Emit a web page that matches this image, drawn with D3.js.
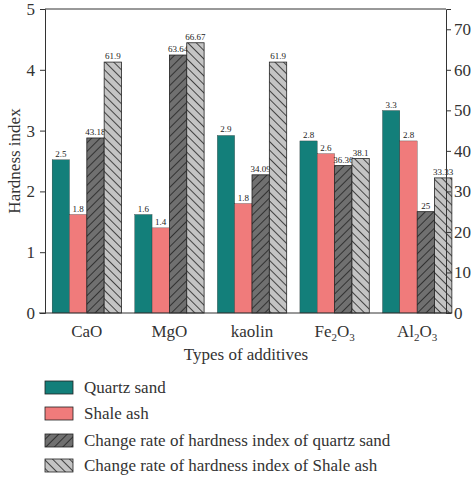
<!DOCTYPE html>
<html><head><meta charset="utf-8">
<script src="https://cdn.jsdelivr.net/npm/d3@7"></script>
<style>body{margin:0;background:#fff}svg{font-family:"Liberation Serif","DejaVu Serif",serif}</style>
</head><body><svg id="c" width="474" height="478"></svg>
<script>
const categories = ["CaO","MgO","kaolin","Fe2O3","Al2O3"];
const quartz = [2.52,1.62,2.92,2.83,3.33];
const quartzLabels = ["2.5","1.6","2.9","2.8","3.3"];
const shale = [1.62,1.40,1.80,2.62,2.83];
const shaleLabels = ["1.8","1.4","1.8","2.6","2.8"];
const rateQuartz = [43.18,63.64,34.09,36.36,25];
const rateShale = [61.9,66.67,61.9,38.1,33.33];
const leftTicks = [0,1,2,3,4,5];
const rightTicks = [0,10,20,30,40,50,60,70];
const seriesNames = ["Quartz sand","Shale ash","Change rate of hardness index of quartz sand","Change rate of hardness index of Shale ash"];

const svg = d3.select("#c");
const L=45,R=446,T=9,B=313;
const defs = svg.append("defs");
function hatch(id, bg, dir){
  const p = defs.append("pattern").attr("id",id).attr("patternUnits","userSpaceOnUse").attr("width",6).attr("height",6)
    .attr("patternTransform", `rotate(${dir})`);
  p.append("rect").attr("width",6).attr("height",6).attr("fill",bg);
  p.append("line").attr("x1",0).attr("y1",0).attr("x2",0).attr("y2",6).attr("stroke","#222").attr("stroke-width",1.6);
}
hatch("hq","#707070",45);
hatch("hs","#c4c4c4",-45);
const fills = ["#137f7a","#f07b7b","url(#hq)","url(#hs)"];

const x0 = d3.scaleBand().domain(categories).range([L+3,R+10]).paddingInner(0.16).paddingOuter(0.05);
const x1 = d3.scaleBand().domain([0,1,2,3]).range([0,x0.bandwidth()]);
const yL = d3.scaleLinear().domain([0,5]).range([B,T]);
const yR = d3.scaleLinear().domain([0,75]).range([B,T]);

const series = [
  {v:quartz, lab:quartzLabels, y:yL},
  {v:shale, lab:shaleLabels, y:yL},
  {v:rateQuartz, lab:rateQuartz.map(String), y:yR},
  {v:rateShale, lab:rateShale.map(String), y:yR}
];
series.forEach((s,si)=>{
  const g = svg.append("g");
  categories.forEach((c,ci)=>{
    const xx = x0(c)+x1(si), w = x1.bandwidth();
    g.append("rect").attr("x",xx).attr("y",s.y(s.v[ci])).attr("width",w).attr("height",B-s.y(s.v[ci]))
      .attr("fill",fills[si]).attr("stroke","#222").attr("stroke-width",si>=2?0.8:0.3);
    g.append("text").attr("x",xx+w/2).attr("y",s.y(s.v[ci])-3).attr("text-anchor","middle")
      .attr("font-size",9).attr("fill","#222").text(s.lab[ci]);
  });
});

// frame
svg.append("line").attr("x1",L).attr("x2",R).attr("y1",T).attr("y2",T).attr("stroke","#333");
const ax = svg.append("g").attr("transform",`translate(${L},0)`).call(d3.axisLeft(yL).tickValues(leftTicks).tickSize(5).tickFormat(d3.format("d")));
const axr = svg.append("g").attr("transform",`translate(${R},0)`).call(d3.axisRight(yR).tickValues(rightTicks).tickSize(5));
const axb = svg.append("g").attr("transform",`translate(0,${B})`).call(d3.axisBottom(x0).tickSize(0).tickFormat(""));
axb.select(".domain").attr("d",`M${L-6},0H${R+6}`);
[ax,axr,axb].forEach(a=>{a.selectAll("path,line").attr("stroke","#333");a.selectAll("text").attr("font-family","Liberation Serif").attr("font-size",17).attr("fill","#333");});
axr.selectAll("text").attr("x",8);
ax.selectAll("text").attr("x",-10);

// category labels with subscripts
categories.forEach(c=>{
  const t = svg.append("text").attr("x",x0(c)+x0.bandwidth()/2).attr("y",337).attr("text-anchor","middle").attr("font-size",17).attr("fill","#333");
  const m = c.match(/^([A-Za-z]+)(\d)([A-Za-z]+)(\d)$/);
  if(m){
    t.append("tspan").text(m[1]);
    t.append("tspan").attr("font-size",11).attr("dy",4).text(m[2]);
    t.append("tspan").attr("dy",-4).text(m[3]);
    t.append("tspan").attr("font-size",11).attr("dy",4).text(m[4]);
  } else t.text(c);
});
svg.append("text").attr("x",246).attr("y",360).attr("text-anchor","middle").attr("font-size",17).attr("fill","#333").text("Types of additives");
svg.append("text").attr("transform","translate(20,161) rotate(-90)").attr("text-anchor","middle").attr("font-size",17).attr("fill","#333").text("Hardness index");

// legend
const ly=[388,414,441,466];
seriesNames.forEach((n,i)=>{
  svg.append("rect").attr("x",45).attr("y",ly[i]-7).attr("width",28).attr("height",13).attr("fill",fills[i]).attr("stroke","#222").attr("stroke-width",0.8);
  svg.append("text").attr("x",84).attr("y",ly[i]+5).attr("font-size",17).attr("fill","#333").text(n);
});
</script></body></html>
